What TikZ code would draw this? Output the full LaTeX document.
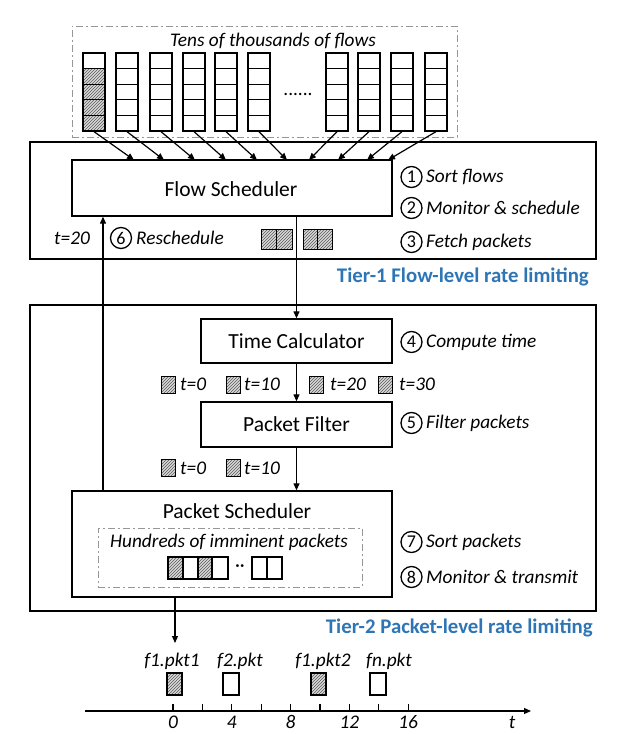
\documentclass[tikz,border=0pt]{standalone}
\usepackage{fontspec}
\setmainfont{Carlito}
\usetikzlibrary{arrows.meta,patterns}
\definecolor{tierblue}{RGB}{46,117,182}
\definecolor{dashgray}{RGB}{150,150,150}
\newcommand\fontBox{\fontsize{21.5}{24}\selectfont}
\newcommand\fontLab{\fontsize{19.3}{22}\selectfont}
\newcommand\fontNum{\fontsize{18}{20}\selectfont}
\newcommand\fontTier{\fontsize{20.8}{23}\selectfont}
\tikzset{
  box/.style={draw, line width=1.3pt, inner sep=0pt, font=\fontBox},
  tier/.style={draw, line width=1.3pt, inner sep=0pt},
  dbox/.style={draw=dashgray, line width=1pt, dash pattern=on 7pt off 3pt on 2pt off 3pt, inner sep=0pt},
  arr/.style={line width=1.2pt, -{Triangle[length=7pt,width=6pt]}},
  hatch/.style={draw, line width=1pt, inner sep=0pt, preaction={fill=gray!30}, pattern=north east lines, pattern color=black!65},
  wcell/.style={draw, line width=1.3pt, fill=white, inner sep=0pt},
  lab/.style={font=\fontLab\itshape, inner sep=0pt, anchor=west},
  ctext/.style={font=\fontLab\itshape, inner sep=0pt},
  cnum/.style={circle, draw, line width=1.3pt, inner sep=0pt, minimum size=21pt, font=\fontNum},
  tierlab/.style={font=\fontTier\bfseries, text=tierblue, inner sep=0pt, anchor=east},
  colq/.style={draw, line width=1.3pt, inner sep=0pt, minimum width=22pt, minimum height=78pt},
  tpkt/.style={hatch, minimum width=14pt, minimum height=17pt},
}
\begin{document}
\begin{tikzpicture}[x=1pt,y=-1pt]
\useasboundingbox (0,0) rectangle (634,734);

% top dashed area with flows
\node[dbox, minimum width=385pt, minimum height=111pt] (flows) at (264.5,81.5) {};
\node[ctext] (flowstitle) at (273,41) {Tens of thousands of flows};
\node[font=\fontLab, inner sep=0pt] (dots) at (298,94) {......};

% tier boxes
\node[tier, minimum width=566pt, minimum height=117pt] (tA) at (313,200.5) {};
\node[tier, minimum width=566pt, minimum height=306pt] (tB) at (313,458) {};
\node[tierlab] (tAlab) at (589,277) {Tier-1 Flow-level rate limiting};
\node[tierlab] (tBlab) at (593,628) {Tier-2 Packet-level rate limiting};

% main boxes
\node[box, minimum width=320pt, minimum height=56pt] (fs) at (232,188) {};
\node[font=\fontBox, inner sep=0pt] (fstext) at (231,189) {Flow Scheduler};
\node[box, minimum width=191pt, minimum height=44pt] (tc) at (296.5,341) {Time Calculator};
\node[box, minimum width=191pt, minimum height=45pt] (pf) at (296.5,424.5) {Packet Filter};
\node[box, minimum width=320pt, minimum height=106pt] (ps) at (232,544) {};
\node[font=\fontBox, inner sep=0pt] (pstext) at (237,511) {Packet Scheduler};
\node[dbox, minimum width=264pt, minimum height=59pt] (imm) at (230,557.5) {};
\node[ctext] (immtext) at (229,542) {Hundreds of imminent packets};

% flow queues
\fill[gray!30] (83,68.6) rectangle (105,131);
\fill[pattern=north east lines, pattern color=black!65] (83,68.6) rectangle (105,131);
\foreach \x/\t [count=\i] in {83/134,116/164,150/195,183/226,215/257,248/287,326/309,358/338,391/367,425/388}{
  \node[colq] (q\i) at (\x+11,92) {};
  \foreach \k in {1,...,4} \draw[line width=1.3pt] (\x,53+15.6*\k) -- (\x+22,53+15.6*\k);
  \coordinate (tip\i) at (\t,160);
  \draw[arr] (q\i.south) -- (tip\i);
}

% step labels
\node[cnum] (c1) at (411.5,177) {1};
\node[lab] (l1) at (426,177) {Sort flows};
\node[cnum] (c2) at (411.5,208) {2};
\node[lab] (l2) at (426,208) {Monitor \& schedule};
\node[cnum] (c3) at (411.5,242) {3};
\node[lab] (l3) at (426,242) {Fetch packets};
\node[cnum] (c4) at (411.5,342) {4};
\node[lab] (l4) at (426,342) {Compute time};
\node[cnum] (c5) at (411.5,423) {5};
\node[lab] (l5) at (426,423) {Filter packets};
\node[cnum] (c7) at (411.5,542) {7};
\node[lab] (l7) at (426,542) {Sort packets};
\node[cnum] (c8) at (411.5,577) {8};
\node[lab] (l8) at (426,577) {Monitor \& transmit};
\node[cnum] (c6) at (121,238) {6};
\node[lab] (l6) at (136,238) {Reschedule};
\node[ctext] (t20) at (72,238) {t=20};

% fetched packet pairs
\node[hatch, minimum width=15.5pt, minimum height=20pt] (fp1) at (268.75,239) {};
\node[hatch, minimum width=15.5pt, minimum height=20pt] (fp2) at (284.25,239) {};
\node[hatch, minimum width=14.5pt, minimum height=20pt] (fp3) at (310.25,239) {};
\node[hatch, minimum width=14.5pt, minimum height=20pt] (fp4) at (324.75,239) {};

% connectors
\coordinate (rs) at (103,0);
\draw[arr] (rs |- ps.north) -- (rs |- fs.south);
\draw[arr] (fs.south -| tc.north) -- (tc.north);
\draw[arr] (tc.south) -- (pf.north);
\draw[arr] (pf.south) -- (pf.south |- ps.north);
\coordinate (outx) at (175,643);
\draw[arr] (outx |- ps.south) -- (outx);

% time rows
\foreach \sx/\tx/\tt [count=\i] in {161/180/0,226.5/244/10,309/330/20,378.5/399/30}{
  \node[tpkt] (r\i) at (\sx+7,384.5) {};
  \node[lab] (rl\i) at (\tx,384) {t=\tt};
}
\foreach \sx/\tx/\tt [count=\i] in {161/180/0,226.5/244/10}{
  \node[tpkt] (s\i) at (\sx+7,468) {};
  \node[lab] (sl\i) at (\tx,468) {t=\tt};
}

% imminent packets
\node[hatch, line width=1.3pt, minimum width=15pt, minimum height=22pt] (ip1) at (175.5,568) {};
\node[wcell, minimum width=15pt, minimum height=22pt] (ip2) at (190.5,568) {};
\node[hatch, line width=1.3pt, minimum width=14pt, minimum height=22pt] (ip3) at (205,568) {};
\node[wcell, minimum width=16pt, minimum height=22pt] (ip4) at (220,568) {};
\node[font=\fontLab, inner sep=0pt] (ipdots) at (240,568) {\textperiodcentered\textperiodcentered};
\node[wcell, minimum width=15pt, minimum height=22pt] (ip5) at (259.5,568) {};
\node[wcell, minimum width=15pt, minimum height=22pt] (ip6) at (274.5,568) {};

% timeline
\coordinate (axL) at (85,711);
\coordinate (axR) at (531,711);
\draw[arr] (axL) -- (axR);
\foreach \k in {0,...,8} \draw[line width=1.2pt] (173+29.4*\k,704) -- (173+29.4*\k,711);
\foreach \k/\v in {0/0,2/4,4/8,6/12,8/16} \node[ctext] (ax\v) at (173+29.4*\k,722) {\v};
\node[ctext] (axt) at (512,722) {t};

\node[hatch, line width=1.3pt, minimum width=15pt, minimum height=22pt] (p1) at (174.5,684) {};
\node[wcell, minimum width=16pt, minimum height=22pt] (p2) at (231,684) {};
\node[hatch, line width=1.3pt, minimum width=15pt, minimum height=22pt] (p3) at (318.5,684) {};
\node[wcell, minimum width=16pt, minimum height=22pt] (p4) at (378,684) {};
\node[ctext] (pl1) at (172,661) {f1.pkt1};
\node[ctext] (pl2) at (240,661) {f2.pkt};
\node[ctext] (pl3) at (323,661) {f1.pkt2};
\node[ctext] (pl4) at (389,661) {fn.pkt};
\end{tikzpicture}
\end{document}
